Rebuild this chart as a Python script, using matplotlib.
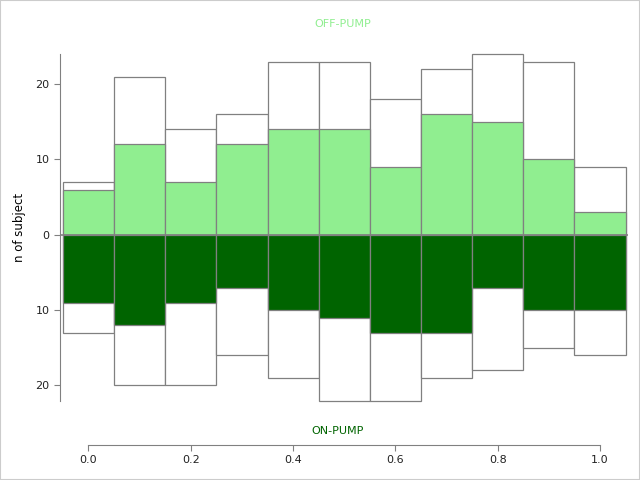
import matplotlib.pyplot as plt
import numpy as np
from matplotlib.patches import Rectangle

# centres des classes (largeur 0.1)
bins = [0.0, 0.1, 0.2, 0.3, 0.4, 0.5, 0.6, 0.7, 0.8, 0.9, 1.0]
# OFF-PUMP : total et groupe
off_total = [7, 21, 14, 16, 23, 23, 18, 22, 24, 23, 9]
off_group = [6, 12, 7, 12, 14, 14, 9, 16, 15, 10, 3]
# ON-PUMP : total et groupe
on_total = [13, 20, 20, 16, 19, 22, 22, 19, 18, 15, 16]
on_group = [9, 12, 9, 7, 10, 11, 13, 13, 7, 10, 10]

light = '#90ee90'
dark = '#006400'
edge = '#808080'

fig = plt.figure(figsize=(6.4, 4.8), dpi=100)
ax = fig.add_axes([60 / 640, 1 - 400.5 / 480, 568 / 640, 346.5 / 480])

x = np.array(bins)
w = 0.1
bars = []
bars += ax.bar(x, off_total, width=w, color='white', edgecolor=edge, linewidth=0.9)
bars += ax.bar(x, off_group, width=w, color=light, edgecolor=edge, linewidth=0.9)
bars += ax.bar(x, -np.array(on_total), width=w, color='white', edgecolor=edge, linewidth=0.9)
bars += ax.bar(x, -np.array(on_group), width=w, color=dark, edgecolor=edge, linewidth=0.9)
for b in bars:
  b.set_clip_on(False)
ax.axhline(0, color=edge, linewidth=1.2)

ax.set_xlim(-0.0557, 1.0547)
ax.set_ylim(-22, 24)

for s in ['top', 'right']:
  ax.spines[s].set_visible(False)
ax.spines['left'].set_color(edge)
ax.spines['left'].set_bounds(-22, 24)
ax.spines['bottom'].set_color(edge)
ax.spines['bottom'].set_position(('outward', 44.5 * 72 / 100))
ax.spines['bottom'].set_bounds(0, 1)

ax.set_yticks([-20, -10, 0, 10, 20])
ax.set_yticklabels(['20', '10', '0', '10', '20'])
ax.set_xticks([0.0, 0.2, 0.4, 0.6, 0.8, 1.0])
ax.set_xticklabels(['0.0', '0.2', '0.4', '0.6', '0.8', '1.0'])
ax.tick_params(colors=edge, labelcolor='#222222', labelsize=8, length=4)
ax.set_ylabel('n of subject', fontsize=8.5, labelpad=7)

fig.text(343 / 640, 1 - 24 / 480, 'OFF-PUMP', color=light, fontsize=8,
         ha='center', va='center')
fig.text(338 / 640, 1 - 431 / 480, 'ON-PUMP', color=dark, fontsize=8,
         ha='center', va='center')

fig.patches.append(Rectangle((0, 0), 1, 1, transform=fig.transFigure,
                             fill=False, edgecolor='#cccccc', linewidth=1.5))

fig.savefig('out.png', dpi=100)
